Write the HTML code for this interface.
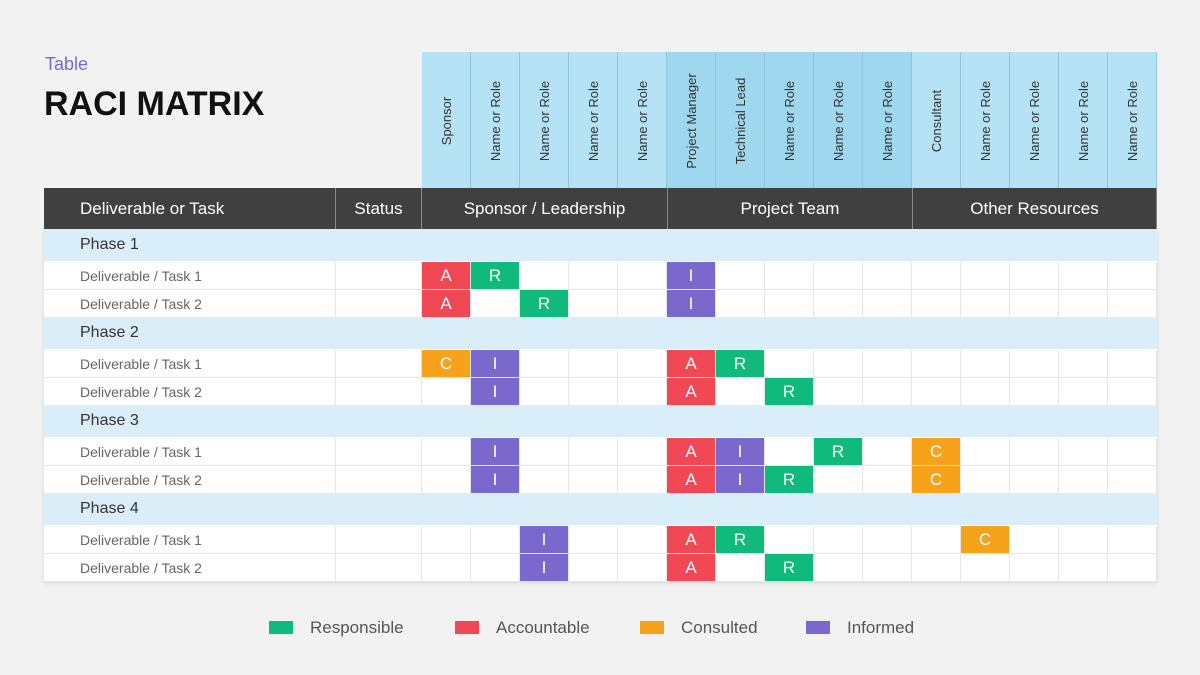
<!DOCTYPE html>
<html><head><meta charset="utf-8"><style>
body{margin:0;width:1200px;height:675px;background:#f2f2f2;font-family:"Liberation Sans",sans-serif;position:relative;overflow:hidden}
.a{position:absolute;box-sizing:border-box}
.vt{position:absolute;transform:rotate(-90deg);white-space:nowrap;font-size:13px;color:#333;width:120px;text-align:center;line-height:16px}
</style></head><body>
<div class="a" style="left:45px;top:54px;font-size:18px;color:#7b68cc">Table</div>
<div class="a" style="left:44px;top:85px;font-size:34px;font-weight:bold;color:#111">RACI MATRIX</div>
<div class="a" style="left:44px;top:229px;width:1113px;height:352px;background:#fff;box-shadow:0 2px 4px rgba(0,0,0,0.12)"></div>
<div id="root"></div>
<div class="a" style="left:0;top:615px;width:1200px;height:26px">
<div class="a" style="left:269px;top:6px;width:24px;height:13px;background:#10b97c"></div><div class="a" style="left:310px;top:3px;font-size:17px;color:#555">Responsible</div>
<div class="a" style="left:455px;top:6px;width:24px;height:13px;background:#f04955"></div><div class="a" style="left:496px;top:3px;font-size:17px;color:#555">Accountable</div>
<div class="a" style="left:640px;top:6px;width:24px;height:13px;background:#f7a21b"></div><div class="a" style="left:681px;top:3px;font-size:17px;color:#555">Consulted</div>
<div class="a" style="left:806px;top:6px;width:24px;height:13px;background:#7b68cc"></div><div class="a" style="left:847px;top:3px;font-size:17px;color:#555">Informed</div>
</div>
<script>
const roles=["Sponsor","Name or Role","Name or Role","Name or Role","Name or Role","Project Manager","Technical Lead","Name or Role","Name or Role","Name or Role","Consultant","Name or Role","Name or Role","Name or Role","Name or Role"];
const phases=["Phase 1","Phase 2","Phase 3","Phase 4"];
const tasks=["Deliverable / Task 1","Deliverable / Task 2"];
const assignments=[
["AR   I         ","A R  I         "],
["CI   AR        "," I   A R       "],
[" I   AI R C    "," I   AIR  C    "],
["  I  AR    C   ","  I  A R       "]];
const colors={R:"#10b97c",A:"#f04955",C:"#f7a21b",I:"#7b68cc"};
const root=document.getElementById('root');
function mk(css,txt){const d=document.createElement('div');d.className='a';d.style.cssText=css;if(txt!==undefined)d.textContent=txt;root.appendChild(d);return d;}
const x0=422,cw=49;
function cx(i){return x0+i*cw;}
roles.forEach((r,i)=>{
 const bg=(i>=5&&i<10)?"#9fd7ee":"#b5e2f4";
 const h=mk(`left:${cx(i)}px;top:52px;width:${cw}px;height:136px;background:${bg};border-right:1px solid #8fc4da`);
 
 
 const t=document.createElement('div');t.className='vt';t.textContent=r;t.style.left=(cw/2-60)+'px';t.style.top=(69-8)+'px';h.appendChild(t);
});
const groups=[["Deliverable or Task",44,336,"left"],["Status",336,422,"center"],["Sponsor / Leadership",422,668,"center"],["Project Team",668,913,"center"],["Other Resources",913,1157,"center"]];
groups.forEach(g=>{
 const d=mk(`left:${g[1]}px;top:188px;width:${g[2]-g[1]}px;height:41px;background:#404040;color:#fff;font-size:17px;line-height:41px;text-align:${g[3]};border-right:1px solid #888;${g[3]=="left"?"padding-left:36px":""}`,g[0]);
 
 
});
let y=229;
phases.forEach((p,pi)=>{
 const ph=mk(`left:44px;top:${y}px;width:1113px;height:32px;background:#d9eef8;padding-left:36px;font-size:16px;color:#333;line-height:32px`,p);
 
 
 y+=33;
 tasks.forEach((t,ti)=>{
  const r=mk(`left:44px;top:${y}px;width:292px;height:28px;border-bottom:1px solid #e5e5e5;border-right:1px solid #e5e5e5;padding-left:36px;font-size:14px;color:#666;line-height:28px`,t);
  
  
  const s=mk(`left:336px;top:${y}px;width:86px;height:28px;border-bottom:1px solid #e5e5e5;border-right:1px solid #e5e5e5`);
  
  
  const a=assignments[pi][ti];
  for(let i=0;i<roles.length;i++){
   const ch=a[i]||' ';
   const c=mk(`left:${cx(i)}px;top:${y}px;width:${cw}px;height:28px;border-bottom:1px solid #e5e5e5;border-right:1px solid #e5e5e5`);
   
   
   if(colors[ch]){
    const m=mk(`left:${cx(i)}px;top:${y}px;width:${cw-1}px;height:27px;background:${colors[ch]};color:#fff;font-size:17px;text-align:center;line-height:27px`,ch);
    
    
   }
  }
  y+=28;
 });
 y-=1;
});
</script>
</body></html>
